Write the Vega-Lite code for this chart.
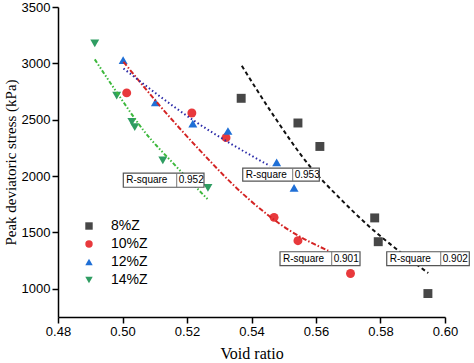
{
  "$schema": "https://vega.github.io/schema/vega-lite/v6.json",
  "width": 387,
  "height": 310,
  "autosize": {"type": "none"},
  "padding": {"left": 58, "top": 7, "right": 29, "bottom": 46},
  "background": "white",
  "config": {
    "view": {"stroke": null},
    "axis": {
      "grid": false,
      "domainColor": "black",
      "domainWidth": 1.5,
      "tickColor": "black",
      "tickWidth": 1.5,
      "labelFont": "Liberation Sans",
      "labelFontSize": 13,
      "labelColor": "black",
      "titleFont": "Liberation Serif",
      "titleFontWeight": "normal",
      "titleColor": "black",
      "labelPadding": 2,
      "labelOverlap": false,
      "labelFlush": false
    },
    "legend": {
      "labelFont": "Liberation Sans",
      "labelFontSize": 14,
      "labelColor": "black"
    }
  },
  "datasets": {
    "pts": [
      {"series": "8%Z", "e": 0.5368, "q": 2690},
      {"series": "8%Z", "e": 0.5544, "q": 2471},
      {"series": "8%Z", "e": 0.5612, "q": 2263},
      {"series": "8%Z", "e": 0.5782, "q": 1629},
      {"series": "8%Z", "e": 0.5793, "q": 1418},
      {"series": "8%Z", "e": 0.5947, "q": 958},
      {"series": "10%Z", "e": 0.5013, "q": 2738},
      {"series": "10%Z", "e": 0.5215, "q": 2560},
      {"series": "10%Z", "e": 0.5321, "q": 2341},
      {"series": "10%Z", "e": 0.5470, "q": 1634},
      {"series": "10%Z", "e": 0.5544, "q": 1427},
      {"series": "10%Z", "e": 0.5707, "q": 1136},
      {"series": "12%Z", "e": 0.5002, "q": 3028},
      {"series": "12%Z", "e": 0.5102, "q": 2655},
      {"series": "12%Z", "e": 0.5218, "q": 2465},
      {"series": "12%Z", "e": 0.5327, "q": 2400},
      {"series": "12%Z", "e": 0.5478, "q": 2121},
      {"series": "12%Z", "e": 0.5532, "q": 1896},
      {"series": "14%Z", "e": 0.4914, "q": 3177},
      {"series": "14%Z", "e": 0.4982, "q": 2714},
      {"series": "14%Z", "e": 0.5029, "q": 2480},
      {"series": "14%Z", "e": 0.5038, "q": 2435},
      {"series": "14%Z", "e": 0.5125, "q": 2139},
      {"series": "14%Z", "e": 0.5265, "q": 1896}
    ],
    "fits": [
      {"fit": "8%Z", "e": 0.5370, "q": 2978},
      {"fit": "8%Z", "e": 0.5468, "q": 2539},
      {"fit": "8%Z", "e": 0.5579, "q": 2094},
      {"fit": "8%Z", "e": 0.5675, "q": 1800},
      {"fit": "8%Z", "e": 0.5768, "q": 1545},
      {"fit": "8%Z", "e": 0.5855, "q": 1340},
      {"fit": "8%Z", "e": 0.5948, "q": 1140},
      {"fit": "10%Z", "e": 0.5003, "q": 3014},
      {"fit": "10%Z", "e": 0.5106, "q": 2657},
      {"fit": "10%Z", "e": 0.5240, "q": 2228},
      {"fit": "10%Z", "e": 0.5385, "q": 1812},
      {"fit": "10%Z", "e": 0.5519, "q": 1516},
      {"fit": "10%Z", "e": 0.5638, "q": 1338},
      {"fit": "12%Z", "e": 0.5003, "q": 2955},
      {"fit": "12%Z", "e": 0.5110, "q": 2720},
      {"fit": "12%Z", "e": 0.5220, "q": 2495},
      {"fit": "12%Z", "e": 0.5340, "q": 2280},
      {"fit": "12%Z", "e": 0.5457, "q": 2090},
      {"fit": "14%Z", "e": 0.4914, "q": 3035},
      {"fit": "14%Z", "e": 0.4990, "q": 2710},
      {"fit": "14%Z", "e": 0.5065, "q": 2406},
      {"fit": "14%Z", "e": 0.5165, "q": 2090},
      {"fit": "14%Z", "e": 0.5266, "q": 1789}
    ],
    "boxes": [
      {"r2": "0.952", "x1": 0.50025, "xd": 0.51681, "x2": 0.52527, "y1": 2026, "y2": 1901, "ym": 1963},
      {"r2": "0.953", "x1": 0.53728, "xd": 0.55278, "x2": 0.56103, "y1": 2070, "y2": 1955, "ym": 2012},
      {"r2": "0.901", "x1": 0.54884, "xd": 0.56487, "x2": 0.57365, "y1": 1329, "y2": 1205, "ym": 1267},
      {"r2": "0.902", "x1": 0.58193, "xd": 0.59868, "x2": 0.60754, "y1": 1329, "y2": 1205, "ym": 1267}
    ]
  },
  "layer": [
    {
      "data": {"name": "pts"},
      "mark": {"type": "point", "filled": true, "opacity": 1, "size": 80},
      "encoding": {
        "x": {
          "field": "e", "type": "quantitative",
          "scale": {"domain": [0.48, 0.60], "nice": false, "zero": false},
          "axis": {
            "title": "Void ratio",
            "titleFontSize": 16,
            "values": [0.48, 0.49, 0.50, 0.51, 0.52, 0.53, 0.54, 0.55, 0.56, 0.57, 0.58, 0.59, 0.60],
            "labelExpr": "round(datum.value*100) % 2 == 0 ? format(datum.value, '.2f') : ''",
            "tickSize": {"condition": {"test": "round(datum.value*100) % 2 == 0", "value": 6}, "value": 3},
            "titlePadding": 7
          }
        },
        "y": {
          "field": "q", "type": "quantitative",
          "scale": {"domain": [750, 3500], "nice": false, "zero": false},
          "axis": {
            "title": "Peak deviatoric stress (kPa)",
            "titleFontSize": 15,
            "values": [1000, 1250, 1500, 1750, 2000, 2250, 2500, 2750, 3000, 3250, 3500],
            "format": "d",
            "labelExpr": "round(datum.value) % 500 == 0 ? datum.label : ''",
            "tickSize": {"condition": {"test": "round(datum.value) % 500 == 0", "value": 6}, "value": 3},
            "titlePadding": 3
          }
        },
        "color": {
          "field": "series", "type": "nominal",
          "scale": {"domain": ["8%Z", "10%Z", "12%Z", "14%Z"], "range": ["#474747", "#e8393c", "#1f6fd6", "#2f9d62"]},
          "legend": {
            "title": null,
            "orient": "none",
            "legendX": 24,
            "legendY": 212,
            "symbolSize": 55,
            "symbolStrokeWidth": 0,
            "labelOffset": 15,
            "rowPadding": 4,
            "padding": 0,
            "encode": {
              "symbols": {
                "update": {
                  "shape": {"scale": "shape", "field": "value"}
                }
              }
            }
          }
        },
        "shape": {
          "field": "series", "type": "nominal",
          "scale": {"domain": ["8%Z", "10%Z", "12%Z", "14%Z"], "range": ["square", "circle", "triangle-up", "triangle-down"]},
          "legend": null
        }
      }
    },
    {
      "data": {"name": "fits"},
      "mark": {"type": "line", "interpolate": "monotone", "strokeWidth": 2},
      "encoding": {
        "x": {"field": "e", "type": "quantitative"},
        "y": {"field": "q", "type": "quantitative"},
        "detail": {"field": "fit"},
        "stroke": {
          "field": "fit", "type": "nominal",
          "scale": {"domain": ["8%Z", "10%Z", "12%Z", "14%Z"], "range": ["#111111", "#d42424", "#2a2aa8", "#3cb83c"]},
          "legend": null
        },
        "strokeDash": {
          "field": "fit", "type": "nominal",
          "scale": {"domain": ["8%Z", "10%Z", "12%Z", "14%Z"], "range": [[4, 3], [5, 2, 1.5, 2], [1.5, 2.5], [4, 2, 1.5, 2, 1.5, 2]]},
          "legend": null
        }
      }
    },
    {
      "data": {"name": "boxes"},
      "mark": {"type": "rect", "fill": "white", "stroke": "#555555", "strokeWidth": 1.2},
      "encoding": {
        "x": {"field": "x1", "type": "quantitative"},
        "x2": {"field": "x2"},
        "y": {"field": "y1", "type": "quantitative"},
        "y2": {"field": "y2"}
      }
    },
    {
      "data": {"name": "boxes"},
      "mark": {"type": "rule", "stroke": "#777777", "strokeWidth": 1},
      "encoding": {
        "x": {"field": "xd", "type": "quantitative"},
        "y": {"field": "y1", "type": "quantitative"},
        "y2": {"field": "y2"}
      }
    },
    {
      "data": {"name": "boxes"},
      "mark": {"type": "text", "text": "R-square", "align": "left", "baseline": "middle", "dx": 3, "font": "Liberation Sans", "fontSize": 10, "fill": "black"},
      "encoding": {
        "x": {"field": "x1", "type": "quantitative"},
        "y": {"field": "ym", "type": "quantitative"}
      }
    },
    {
      "data": {"name": "boxes"},
      "mark": {"type": "text", "align": "left", "baseline": "middle", "dx": 2, "font": "Liberation Sans", "fontSize": 10, "fill": "black"},
      "encoding": {
        "x": {"field": "xd", "type": "quantitative"},
        "y": {"field": "ym", "type": "quantitative"},
        "text": {"field": "r2"}
      }
    }
  ]
}
